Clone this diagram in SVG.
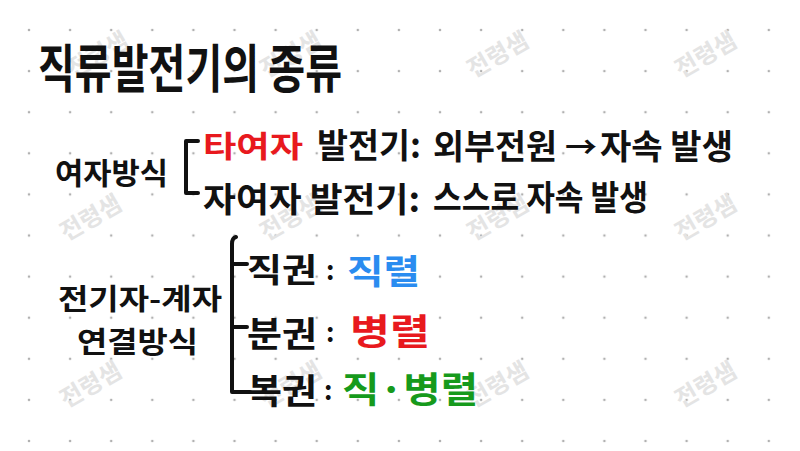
<svg xmlns="http://www.w3.org/2000/svg" width="800" height="451" viewBox="0 0 800 451">
<defs>
<pattern id="dots" x="8.45" y="9.45" width="41.1" height="41.1" patternUnits="userSpaceOnUse">
<circle cx="20.55" cy="20.55" r="1.3" fill="#b0b0b0"/>
</pattern>
</defs>
<style>
.t{font-family:"Noto Sans CJK KR","Noto Sans",sans-serif;font-weight:700;fill:#111}
.red{fill:#e8191e}
.blue{fill:#2a8cf0}
.green{fill:#169a1c}
.wm{font-family:"Noto Sans CJK KR",sans-serif;font-weight:700;font-size:24px;fill:#e4e4e4}
.br{fill:none;stroke:#111;stroke-width:4;stroke-linecap:round;stroke-linejoin:round}
</style>
<rect width="800" height="451" fill="#ffffff"/>
<rect width="800" height="451" fill="url(#dots)"/>
<g id="watermarks">
<text class="wm" transform="translate(102,62) rotate(-30)" text-anchor="middle">전령샘</text>
<text class="wm" transform="translate(295,62) rotate(-30)" text-anchor="middle">전령샘</text>
<text class="wm" transform="translate(502,62) rotate(-30)" text-anchor="middle">전령샘</text>
<text class="wm" transform="translate(710,62) rotate(-30)" text-anchor="middle">전령샘</text>
<text class="wm" transform="translate(95,225) rotate(-30)" text-anchor="middle">전령샘</text>
<text class="wm" transform="translate(295,225) rotate(-30)" text-anchor="middle">전령샘</text>
<text class="wm" transform="translate(502,225) rotate(-30)" text-anchor="middle">전령샘</text>
<text class="wm" transform="translate(710,225) rotate(-30)" text-anchor="middle">전령샘</text>
<text class="wm" transform="translate(95,392) rotate(-30)" text-anchor="middle">전령샘</text>
<text class="wm" transform="translate(295,392) rotate(-30)" text-anchor="middle">전령샘</text>
<text class="wm" transform="translate(502,392) rotate(-30)" text-anchor="middle">전령샘</text>
<text class="wm" transform="translate(710,392) rotate(-30)" text-anchor="middle">전령샘</text>
</g>
<g id="title">
<text class="t" x="38" y="88" font-size="52" textLength="304" lengthAdjust="spacingAndGlyphs">직류발전기의 종류</text>
</g>
<g id="connectors">
<path class="br" d="M198,141 H186 V193 H198"/>
<path class="br" d="M236,237 Q232,238 232,244 V392 H250 M232,264 H247 M232,327 H247"/>
</g>
<g id="excitation">
<text class="t" x="55" y="184" font-size="30" textLength="113" lengthAdjust="spacingAndGlyphs">여자방식</text>
</g>
<g id="separately-excited">
<text class="t red" x="203" y="157" font-size="30" textLength="100" lengthAdjust="spacingAndGlyphs">타여자</text>
<text class="t" x="317" y="158" font-size="34" textLength="104" lengthAdjust="spacingAndGlyphs">발전기:</text>
<text class="t" x="433" y="159" font-size="34" textLength="124" lengthAdjust="spacingAndGlyphs">외부전원</text>
<text class="t" x="565" y="158" font-size="30" textLength="32" lengthAdjust="spacingAndGlyphs">→</text>
<text class="t" x="600" y="159" font-size="34" textLength="133" lengthAdjust="spacingAndGlyphs">자속 발생</text>
</g>
<g id="self-excited">
<text class="t" x="203" y="212" font-size="34" textLength="217" lengthAdjust="spacingAndGlyphs">자여자 발전기:</text>
<text class="t" x="433" y="210" font-size="34" textLength="215" lengthAdjust="spacingAndGlyphs">스스로 자속 발생</text>
</g>
<g id="connection">
<text class="t" x="58" y="310" font-size="29" textLength="164" lengthAdjust="spacingAndGlyphs">전기자-계자</text>
<text class="t" x="77" y="353" font-size="29" textLength="121" lengthAdjust="spacingAndGlyphs">연결방식</text>
</g>
<g id="series">
<text class="t" x="247" y="282" font-size="33" textLength="70" lengthAdjust="spacingAndGlyphs">직권</text>
<text class="t" x="326" y="280" font-size="26">:</text>
<text class="t blue" x="347" y="284" font-size="34" textLength="73" lengthAdjust="spacingAndGlyphs">직렬</text>
</g>
<g id="shunt">
<text class="t" x="247" y="347" font-size="35" textLength="70" lengthAdjust="spacingAndGlyphs">분권</text>
<text class="t" x="326" y="342" font-size="26">:</text>
<text class="t red" x="350" y="345" font-size="36" textLength="80" lengthAdjust="spacingAndGlyphs">병렬</text>
</g>
<g id="compound">
<text class="t" x="247" y="404" font-size="35" textLength="70" lengthAdjust="spacingAndGlyphs">복권</text>
<text class="t" x="324" y="400" font-size="26">:</text>
<text class="t green" x="342" y="403" font-size="36" textLength="136" lengthAdjust="spacingAndGlyphs">직·병렬</text>
</g>
</svg>
